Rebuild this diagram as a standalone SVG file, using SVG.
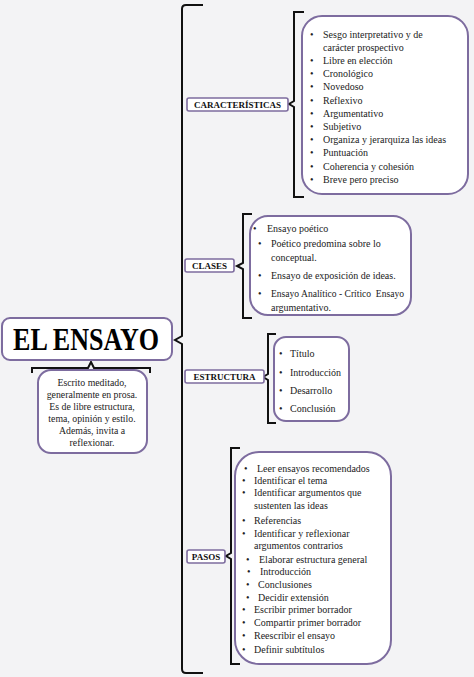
<svg xmlns="http://www.w3.org/2000/svg" width="474" height="677" viewBox="0 0 474 677">
<style>
.bg{fill:#f3f3f5}
.box{fill:#ffffff;stroke:#7d6c9f;stroke-width:2}
.cat{fill:#ffffff;stroke:#7d6c9f;stroke-width:1.6}
.br{fill:none;stroke:#111111;stroke-width:2;stroke-linejoin:miter}
.t{font-family:"Liberation Serif","Times New Roman",serif;font-size:10px;fill:#222222}
.b{font-family:"Liberation Serif","Times New Roman",serif;font-size:10px;fill:#222222}
.c{font-family:"Liberation Serif","Times New Roman",serif;font-size:9px;font-weight:bold;fill:#111111;text-anchor:middle}
.d{font-family:"Liberation Serif","Times New Roman",serif;font-size:9.8px;fill:#222222;text-anchor:middle}
</style>
<rect class="bg" x="0" y="0" width="474" height="677"/>

<g id="connectors">
  <path class="br" d="M203 5 L186 5 Q182 5 182 9 L182 336 L175 340 L182 344 L182 669 Q182 673 186 673 L203 673"/>
  <path class="br" d="M32 373 L32 368 L88 368 L91 362 L94 368 L150 368 L150 373"/>
  <path class="br" d="M304 12 L294 12 L294 101 L289 104 L294 107 L294 197 L304 197"/>
  <path class="br" d="M252 214 L243 214 L243 263 L237 266 L243 269 L243 318 L252 318"/>
  <path class="br" d="M276 334 L268 334 L268 374 L263 377 L268 380 L268 423 L276 423"/>
  <path class="br" d="M240 448 L231 448 L231 553 L226 556 L231 559 L231 664 L240 664"/>
</g>

<g id="el-ensayo">
  <rect class="box" x="2" y="318" width="170" height="42" rx="8"/>
  <text x="86" y="350" textLength="146" lengthAdjust="spacingAndGlyphs" style="font-family:'Liberation Serif','Times New Roman',serif;font-size:32px;font-weight:bold;fill:#000000;text-anchor:middle">EL ENSAYO</text>
</g>

<g id="descripcion">
  <rect class="box" x="38" y="370" width="109" height="83" rx="13"/>
  <text class="d" x="92" y="386">Escrito meditado,</text>
  <text class="d" x="92" y="398">generalmente en prosa.</text>
  <text class="d" x="92" y="410">Es de libre estructura,</text>
  <text class="d" x="92" y="422">tema, opinión y estilo.</text>
  <text class="d" x="92" y="434">Además, invita a</text>
  <text class="d" x="92" y="446">reflexionar.</text>
</g>

<g id="caracteristicas">
  <rect class="cat" x="187" y="98" width="101" height="13" rx="2"/>
  <text class="c" x="237.5" y="108">CARACTERÍSTICAS</text>
</g>
<g id="caracteristicas-lista">
  <rect class="box" x="302" y="16" width="166" height="178" rx="20"/>
  <text class="b" x="310" y="38">•</text><text class="t" x="323" y="38">Sesgo interpretativo y de</text>
  <text class="t" x="323" y="51">carácter prospectivo</text>
  <text class="b" x="310" y="64">•</text><text class="t" x="323" y="64">Libre en elección</text>
  <text class="b" x="310" y="77">•</text><text class="t" x="323" y="77">Cronológico</text>
  <text class="b" x="310" y="90">•</text><text class="t" x="323" y="90">Novedoso</text>
  <text class="b" x="310" y="104">•</text><text class="t" x="323" y="104">Reflexivo</text>
  <text class="b" x="310" y="117">•</text><text class="t" x="323" y="117">Argumentativo</text>
  <text class="b" x="310" y="130">•</text><text class="t" x="323" y="130">Subjetivo</text>
  <text class="b" x="310" y="143">•</text><text class="t" x="323" y="143">Organiza y jerarquiza las ideas</text>
  <text class="b" x="310" y="156">•</text><text class="t" x="323" y="156">Puntuación</text>
  <text class="b" x="310" y="170">•</text><text class="t" x="323" y="170">Coherencia y cohesión</text>
  <text class="b" x="310" y="183">•</text><text class="t" x="323" y="183">Breve pero preciso</text>
</g>

<g id="clases">
  <rect class="cat" x="185" y="259" width="49" height="13" rx="2"/>
  <text class="c" x="209.5" y="269">CLASES</text>
</g>
<g id="clases-lista">
  <rect class="box" x="250" y="216" width="161" height="99" rx="18"/>
  <text class="b" x="253" y="232">•</text><text class="t" x="267" y="232">Ensayo poético</text>
  <text class="b" x="258" y="247">•</text><text class="t" x="271" y="247">Poético predomina sobre lo</text>
  <text class="t" x="271" y="261">conceptual.</text>
  <text class="b" x="258" y="279">•</text><text class="t" x="271" y="279">Ensayo de exposición de ideas.</text>
  <text class="b" x="258" y="297">•</text><text class="t" x="271" y="297" textLength="133" lengthAdjust="spacingAndGlyphs">Ensayo Analítico - Crítico&#160; Ensayo</text>
  <text class="t" x="271" y="311">argumentativo.</text>
</g>

<g id="estructura">
  <rect class="cat" x="185" y="370" width="79" height="13" rx="2"/>
  <text class="c" x="224.5" y="380">ESTRUCTURA</text>
</g>
<g id="estructura-lista">
  <rect class="box" x="274" y="337" width="75" height="84" rx="12"/>
  <text class="b" x="279" y="357">•</text><text class="t" x="290" y="357">Título</text>
  <text class="b" x="279" y="376">•</text><text class="t" x="290" y="376">Introducción</text>
  <text class="b" x="279" y="394">•</text><text class="t" x="290" y="394">Desarrollo</text>
  <text class="b" x="279" y="412">•</text><text class="t" x="290" y="412">Conclusión</text>
</g>

<g id="pasos">
  <rect class="cat" x="187" y="550" width="38" height="13" rx="2"/>
  <text class="c" x="206" y="560">PASOS</text>
</g>
<g id="pasos-lista">
  <rect class="box" x="235" y="452" width="156" height="212" rx="24"/>
  <text class="b" x="244" y="472">•</text><text class="t" x="257" y="472">Leer ensayos recomendados</text>
  <text class="b" x="242" y="484">•</text><text class="t" x="254" y="484">Identificar el tema</text>
  <text class="b" x="242" y="496">•</text><text class="t" x="254" y="496">Identificar argumentos que</text>
  <text class="t" x="254" y="509">sustenten las ideas</text>
  <text class="b" x="242" y="524">•</text><text class="t" x="254" y="524">Referencias</text>
  <text class="b" x="242" y="537">•</text><text class="t" x="254" y="537">Identificar y reflexionar</text>
  <text class="t" x="254" y="549">argumentos contrarios</text>
  <text class="b" x="246" y="563">•</text><text class="t" x="259" y="563">Elaborar estructura general</text>
  <text class="b" x="247" y="575">•</text><text class="t" x="260" y="575">Introducción</text>
  <text class="b" x="246" y="588">•</text><text class="t" x="258" y="588">Conclusiones</text>
  <text class="b" x="246" y="601">•</text><text class="t" x="258" y="601">Decidir extensión</text>
  <text class="b" x="242" y="613">•</text><text class="t" x="254" y="613">Escribir primer borrador</text>
  <text class="b" x="242" y="626">•</text><text class="t" x="254" y="626">Compartir primer borrador</text>
  <text class="b" x="242" y="639">•</text><text class="t" x="254" y="639">Reescribir el ensayo</text>
  <text class="b" x="242" y="653">•</text><text class="t" x="254" y="653">Definir subtítulos</text>
</g>
</svg>
